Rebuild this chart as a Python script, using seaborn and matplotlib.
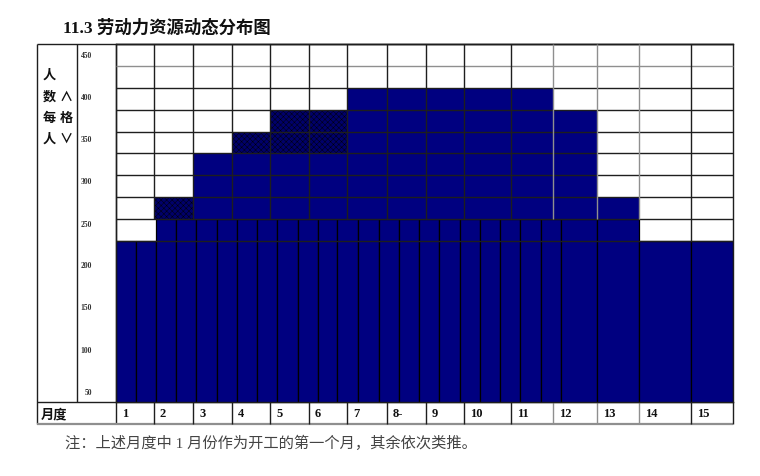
import matplotlib
matplotlib.use('Agg')
from matplotlib import pyplot as plt
import numpy as np
import seaborn as sns

# months along the bottom row
months = ['1', '2', '3', '4', '5', '6', '7', '8-', '9', '10', '11', '12', '13', '14', '15']
# persons per month: top of the solid part, and total incl. the hatched top-up
solid_top = [225, 250, 325, 325, 325, 325, 400, 400, 400, 400, 400, 375, 275, 225, 225]
total = [225, 275, 325, 350, 375, 375, 400, 400, 400, 400, 400, 375, 275, 225, 225]
# base layer of narrow columns (persons)
base_heights = [225, 225, 250, 250, 250, 250, 250, 250, 250, 250, 250, 250, 250,
                250, 250, 250, 250, 250, 250, 250, 250, 250, 250, 250, 225, 225]
tick_labels = ['450', '400', '350', '300', '250', '200', '150', '100', '50']

# layout (pixels across the page, people up the chart)
MONTH_EDGES = [115.7, 154, 193, 232, 270.3, 308.7, 347.3, 386.7, 425.7, 463.7,
               510.7, 553.3, 596.7, 639, 690.7, 733.3]
BASE_EDGES = [115.7, 135.7, 155.7, 175.7, 196.3, 216.7, 237.3, 257.3, 277.3, 297.7,
              317.7, 337.3, 357.7, 378.7, 398.7, 418.7, 438.7, 459.7, 479.7, 500,
              520, 540.7, 560.7, 596.7, 639, 690.7, 733.3]
TICK_POS = [438.6, 390.7, 342.7, 294.7, 245.6, 198.8, 150.8, 101.7, 53.7]
ROWS = [450, 425, 400, 375, 350, 325, 300, 275, 250, 225]
GRAY_ROWS = [425]
GRAY_COLS = [553.3, 596.7, 639]
Y_MIN, Y_MAX = 41.1, 450
LEFT, RIGHT, TOP, BOT, BOT2 = 115.7, 733.3, 45, 403, 425

NAVY = '#000080'
DARK = '#1e1e1e'
GRAY = '#8f8f8f'

sns.set_theme(style='white')
plt.rcParams['font.family'] = ['Liberation Serif', 'Noto Sans CJK SC']
plt.rcParams['hatch.linewidth'] = 0.3

W, H = 760, 477
fig = plt.figure(figsize=(W / 100, H / 100), dpi=100)

# page axes in pixel coordinates for the table frame and the texts
page = fig.add_axes([0, 0, 1, 1], zorder=0)
page.set_xlim(0, W)
page.set_ylim(H, 0)
page.axis('off')

# chart area
ax = fig.add_axes([LEFT / W, (H - BOT) / H, (RIGHT - LEFT) / W, (BOT - TOP) / H], zorder=1)

centers = [(a + b) / 2 for a, b in zip(BASE_EDGES[:-1], BASE_EDGES[1:])]
sns.histplot(x=centers, weights=base_heights, bins=BASE_EDGES, ax=ax,
             color=NAVY, alpha=1, edgecolor='black', linewidth=0.9, zorder=2)

left = np.array(MONTH_EDGES[:-1])
width = np.diff(MONTH_EDGES)
solid = np.array(solid_top)
tot = np.array(total)
up = np.clip(solid - 250, 0, None)
ax.bar(left, up, width=width, bottom=250, align='edge', color=NAVY, linewidth=0, zorder=2)
ax.bar(left, tot - solid, width=width, bottom=solid, align='edge', color='#00006a',
       edgecolor='black', hatch='xxxxxx', linewidth=0, zorder=2)

# table grid of the upper part
for r in ROWS:
    ax.hlines(r, LEFT, RIGHT, colors=GRAY if r in GRAY_ROWS else DARK, lw=1.0,
              zorder=4, clip_on=False)
for x in MONTH_EDGES[1:-1]:
    ax.vlines(x, 250, Y_MAX, colors=GRAY if x in GRAY_COLS else DARK, lw=1.0, zorder=4)
ax.vlines(MONTH_EDGES[-2], 225, 250, colors=DARK, lw=1.0, zorder=4)

ax.set_xlim(LEFT, RIGHT)
ax.set_ylim(Y_MIN, Y_MAX)
ax.set_xlabel('')
ax.set_ylabel('')
ax.set_xticks([])
ax.set_yticks(TICK_POS, tick_labels)
ax.tick_params(axis='y', length=0, pad=17, labelsize=5.5)
for t in ax.get_yticklabels():
    t.set_fontweight('bold')
    t.set_color('#333333')
for s in ax.spines.values():
    s.set_color(DARK)
    s.set_linewidth(1.0)
ax.patch.set_alpha(0)

# outer table frame
page.vlines(37.3, TOP, BOT2, colors=DARK, lw=1.0)
page.vlines(76.7, TOP, BOT, colors=DARK, lw=1.0)
page.vlines(LEFT, TOP, BOT2, colors=DARK, lw=1.0)
page.hlines(TOP, 37.3, RIGHT, colors=DARK, lw=1.0)
page.hlines(BOT, 37.3, RIGHT, colors=DARK, lw=1.0)
page.hlines(BOT2, 37.3, RIGHT, colors=GRAY, lw=1.6)
for x in MONTH_EDGES[1:]:
    page.vlines(x, BOT, BOT2, colors=GRAY if x in GRAY_COLS else DARK, lw=1.0)

# month labels
for x0, m in zip(MONTH_EDGES[:-1], months):
    page.text(x0 + 6, 414.5, m, fontsize=9, fontweight='bold', ha='left', va='center',
              color='#111111')
page.text(41, 414, '月度', fontsize=9.5, fontweight='bold', ha='left', va='center',
          family=['Noto Sans CJK SC'], color='#111111')

# y label written down the first column
for ty, a, b in [(75, '人', ''), (97, '数', '∧'), (118, '每', '格'), (139, '人', '∨')]:
    page.text(43, ty, a, fontsize=9.5, fontweight='bold', ha='left', va='center',
              family=['Noto Sans CJK SC', 'DejaVu Sans'], color='#111111')
    if b:
        page.text(60, ty, b, fontsize=9.5, fontweight='bold', ha='left', va='center',
                  family=['Noto Sans CJK SC', 'DejaVu Sans'], color='#111111')

page.text(63, 28, '11.3 劳动力资源动态分布图', fontsize=12.5, fontweight='bold',
          ha='left', va='center', color='#111111')
page.text(65, 443, '注：上述月度中 1 月份作为开工的第一个月，其余依次类推。', fontsize=11,
          ha='left', va='center', color='#444444')

fig.savefig('out.png', dpi=100)
